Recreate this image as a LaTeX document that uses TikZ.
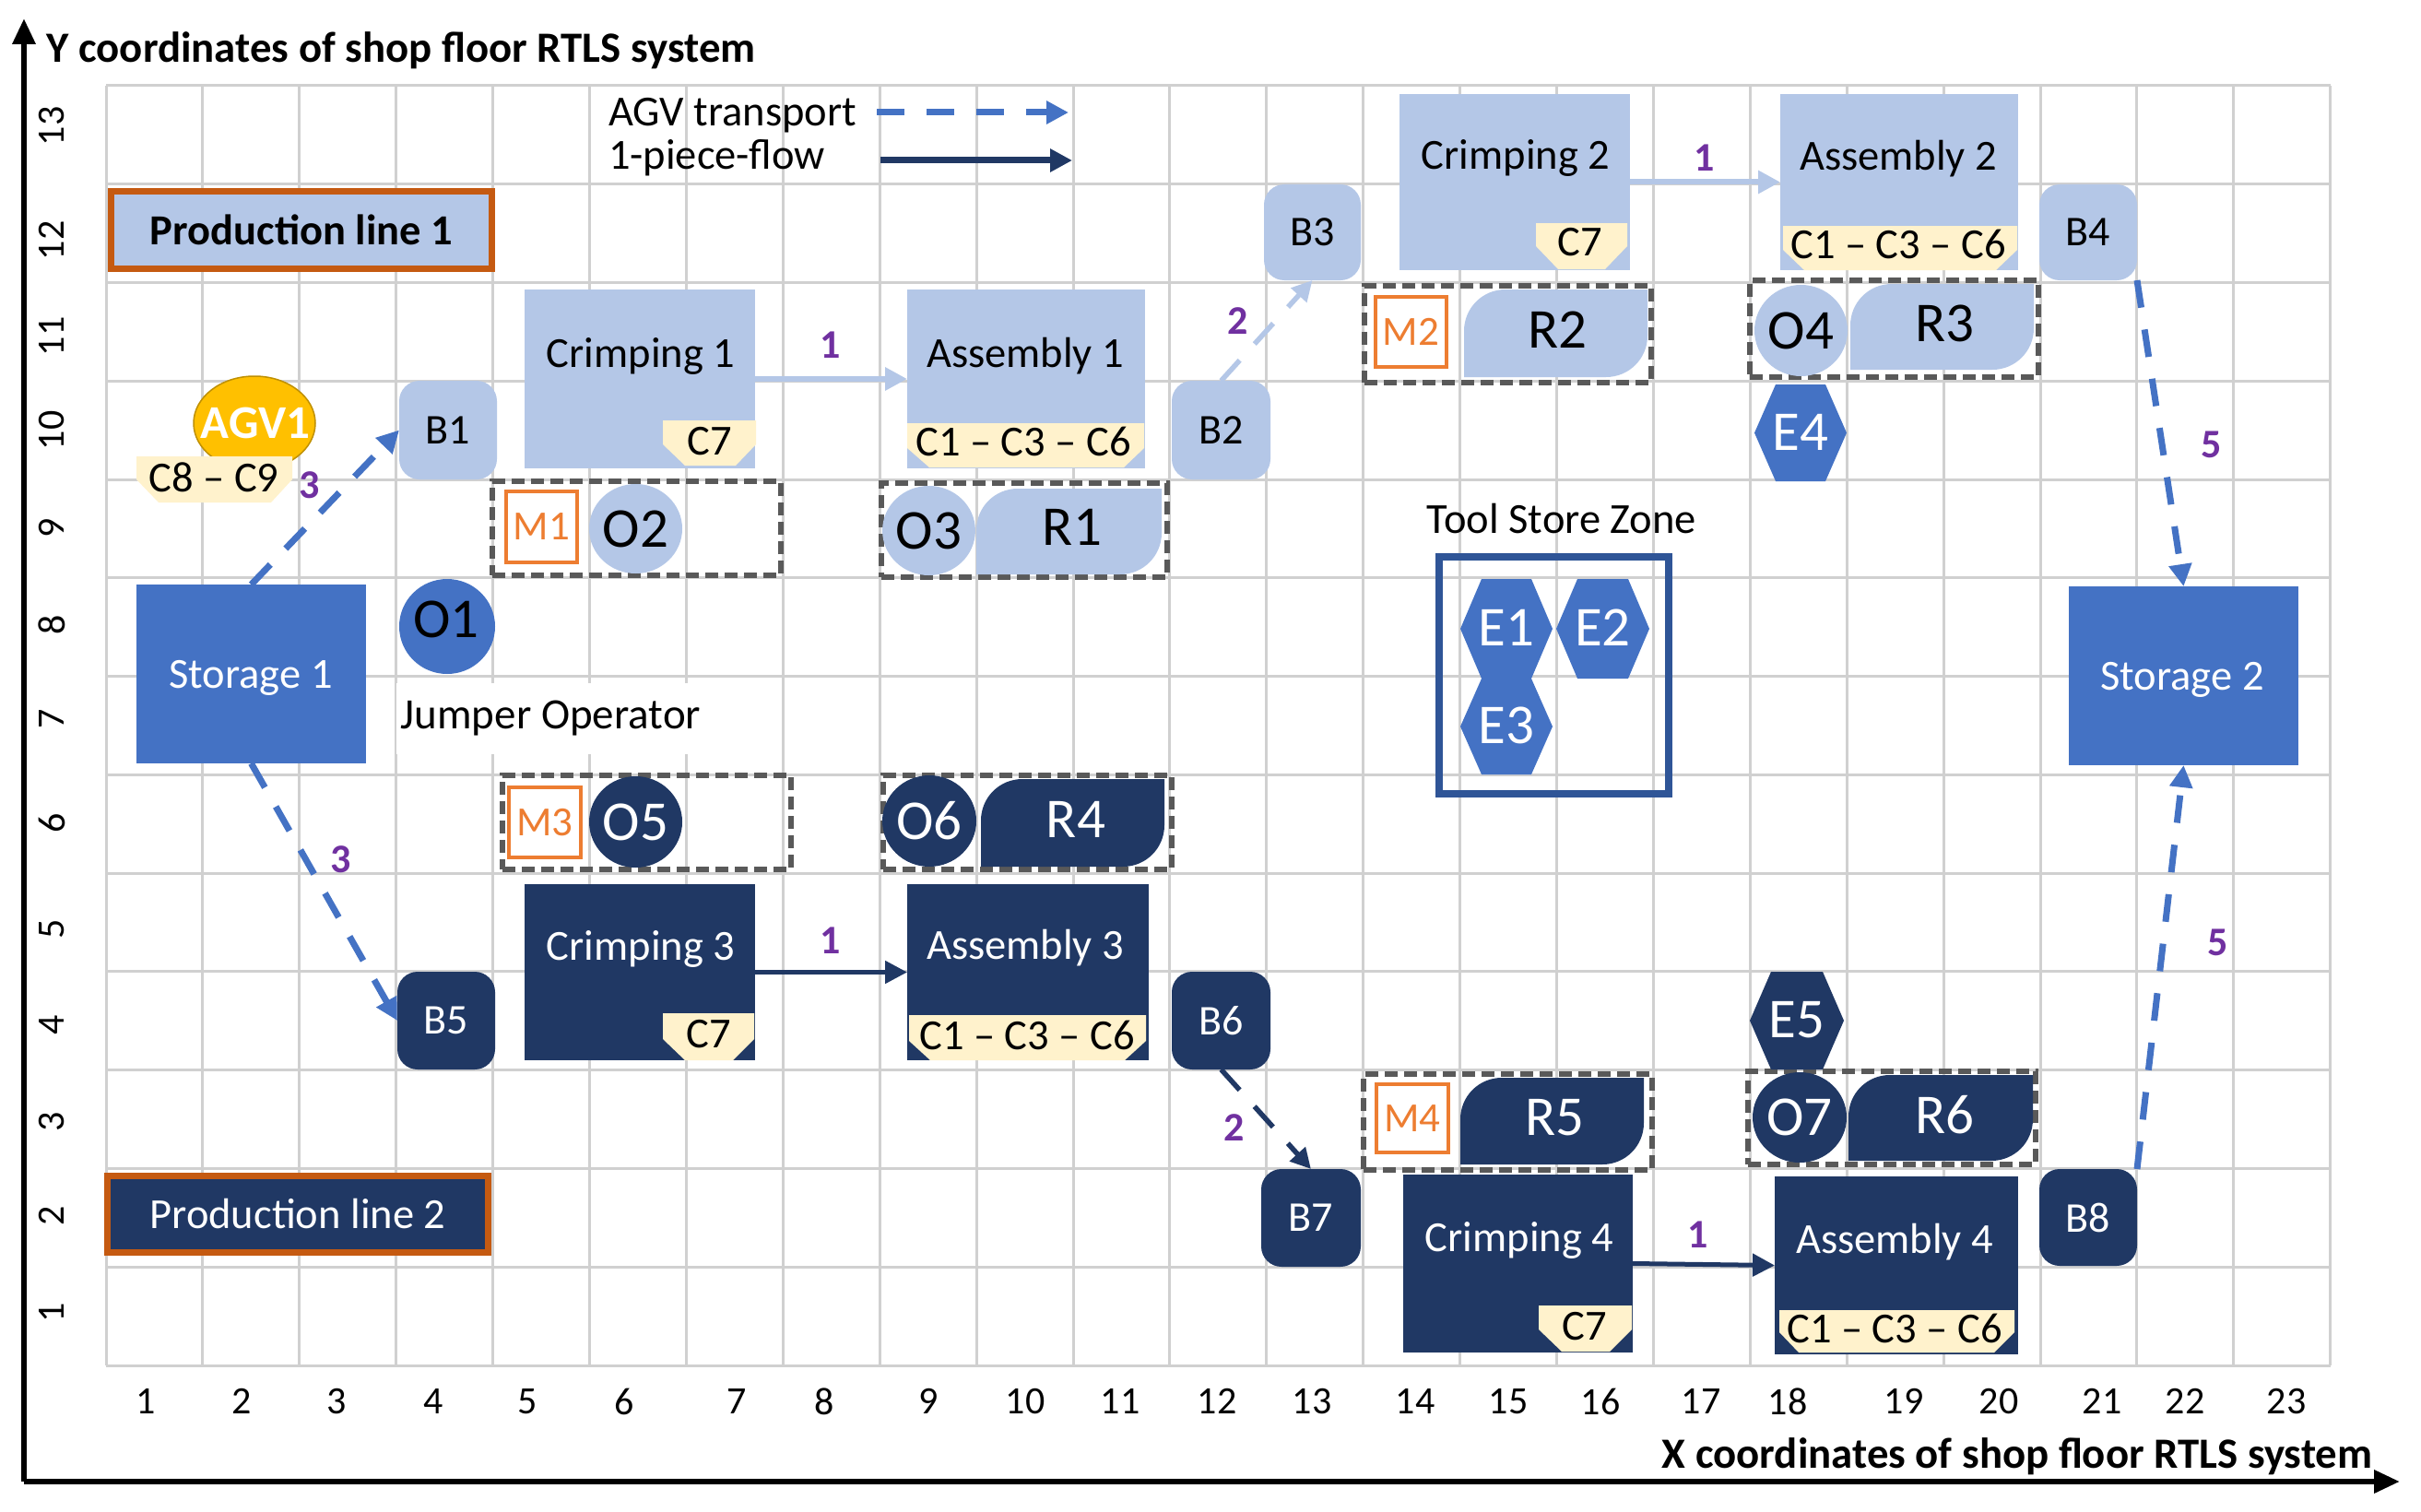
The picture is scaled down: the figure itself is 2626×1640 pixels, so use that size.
\documentclass[tikz,border=0pt]{standalone}
\usepackage{fontspec}
\setmainfont{Carlito}
\usetikzlibrary{arrows.meta,shapes.geometric}
\definecolor{lightb}{HTML}{B4C7E7}
\definecolor{midb}{HTML}{4472C4}
\definecolor{darkb}{HTML}{203864}
\definecolor{tagy}{HTML}{FFF2CC}
\definecolor{rust}{HTML}{C55A11}
\definecolor{orng}{HTML}{ED7D31}
\definecolor{purp}{HTML}{7030A0}
\definecolor{toolb}{HTML}{2F5597}
\definecolor{gridc}{HTML}{D0D0D0}
\definecolor{dashc}{HTML}{595959}
\definecolor{agvfill}{HTML}{FFC000}
\definecolor{agvline}{HTML}{BF9000}
\newcommand{\fs}[1]{\fontsize{#1pt}{#1pt}\selectfont}
\tikzset{
  base/.style={inner sep=0pt,outer sep=0pt,align=center},
  lbl/.style={base,font=\fs{46.5}},
  big/.style={base,font=\fs{61}},
  ax/.style={base,font=\fs{42}},
  num/.style={base,font=\bfseries\fs{44},text=purp},
  agv/.style={line width=7pt,dash pattern=on 30pt off 24pt,-{Triangle[length=24pt,width=24pt]}},
  agvthin/.style={line width=5.5pt,dash pattern=on 30pt off 24pt,-{Triangle[length=22pt,width=22pt]}},
  flow/.style={-{Triangle[length=24pt,width=24pt]}},
  group/.style={draw=dashc,line width=5.5pt,dash pattern=on 14pt off 7pt},
  axis/.style={line width=6.5pt,black,-{Triangle[length=28pt,width=24pt]}},
  buf/.style={base,rounded corners=22pt,font=\fs{46}},
  mach/.style={base,draw=orng,line width=4pt,text=orng,font=\fs{45}},
  oper/.style={base,ellipse,font=\fs{61}},
}
% name, style, x1, y1, x2, y2, text
\newcommand{\bx}[7]{%
  \pgfmathsetmacro\cxx{(#3+#5)/2}\pgfmathsetmacro\cyy{(#4+#6)/2}%
  \pgfmathsetmacro\wdd{#5-#3}\pgfmathsetmacro\htt{#6-#4}%
  \node[base,minimum width=\wdd pt,minimum height=\htt pt,#2] (#1) at (\cxx,\cyy) {#7};}
% x1,y1,x2,y2,bottom x1,bottom x2,corner y
\newcommand{\tagsh}[7]{\fill[tagy] (#1,#2)--(#3,#2)--(#3,#7)--(#6,#4)--(#5,#4)--(#1,#7)--cycle;}
% colour,x1,y1,x2,y2
\newcommand{\rsh}[5]{\fill[#1] (#2,#5)--(#2,#3+45) .. controls (#2,#3+20) and (#2+20,#3) .. (#2+45,#3)--(#4,#3)--(#4,#5-45) .. controls (#4,#5-20) and (#4-20,#5) .. (#4-45,#5)--cycle;}
% name,colour,x1,y1,x2,y2,text
\newcommand{\hexa}[7]{%
  \fill[#2] (#3+23,#4)--(#5-23,#4)--(#5,{(#4+#6)/2})--(#5-23,#6)--(#3+23,#6)--(#3,{(#4+#6)/2})--cycle;
  \node[big,text=white] (#1) at ({(#3+#5)/2},{(#4+#6)/2-1}) {#7};}
\begin{document}
\begin{tikzpicture}[x=1pt,y=-1pt]
\useasboundingbox (0,0) rectangle (2626,1640);
\fill[white] (0,0) rectangle (2626,1640);
% grid
\foreach \i in {0,...,23}{\draw[gridc,line width=3pt] ({115+104.9*\i},93)--({115+104.9*\i},1481);}
\foreach \i in {0,...,13}{\draw[gridc,line width=3pt] (115,{93+106.77*\i})--(2528,{93+106.77*\i});}
% axes
\coordinate (org) at (26,1607);
\coordinate (ytop) at (26,20);
\coordinate (xend) at (2603,1607);
\draw[axis] (org)--(ytop);
\draw[axis] (org)--(xend);
\node[base,font=\bfseries\fs{46.8},anchor=center] (ytitle) at (435,55) {Y coordinates of shop floor RTLS system};
\node[base,font=\bfseries\fs{46.8},anchor=center] (xtitle) at (2188,1580) {X coordinates of shop floor RTLS system};
\foreach \v/\p in {13/137,12/261,11/365,10/467,9/573,8/678,7/780,6/893,5/1008,4/1112,3/1217,2/1319,1/1424}{\node[ax,rotate=90] (yl\v) at (56,\p) {\v};}
\foreach \v/\p in {1/158,2/262,3/365,4/470,5/572,6/677,7/799,8/894,9/1007,10/1112,11/1215,12/1320,13/1423,14/1535,15/1636,16/1736,17/1845,18/1939,19/2065,20/2168,21/2280,22/2370,23/2480}{\node[ax] (xl\v) at (\p,1520) {\v};}
% legend
\node[lbl,anchor=west] (legA) at (660,125) {AGV transport};
\node[lbl,anchor=west] (legB) at (660,171) {1-piece-flow};
\coordinate (la1) at (951,122);\coordinate (la2) at (1159,122);
\coordinate (lb1) at (955,174);\coordinate (lb2) at (1163,174);
\draw[agv,midb] (la1)--(la2);
\draw[flow,darkb,line width=7pt] (lb1)--(lb2);
% production line labels
\bx{pl1}{draw=rust,line width=7.5pt,fill=lightb,font=\bfseries\fs{46.5}}{120.5}{207.5}{533.5}{291.5}{Production line 1}
\bx{pl2}{draw=rust,line width=7.5pt,fill=darkb,text=white,font=\fs{46.5}}{116.5}{1275.5}{529.5}{1358.5}{Production line 2}
% Jumper
\bx{ol1}{fill=midb,ellipse}{433}{628}{537}{731}{}
\node[big] (o1) at (484,672) {O1};
\bx{jo}{fill=white,font=\fs{47}}{430}{741}{765}{818}{Jumper Operator}
% AGV
\bx{agv1}{ellipse,fill=agvfill,draw=agvline,line width=1.5pt}{210}{408}{342}{510}{}
\node[base,text=white,font=\bfseries\fs{51}] (agvt) at (277,459) {AGV1};
\tagsh{148}{495}{317}{545}{172}{294}{520}
\node[lbl] (c89) at (232,518) {C8 – C9};
% storage
\bx{st1}{fill=midb}{148}{634}{397}{828}{}
\node[lbl,text=white] (st1t) at (272,735) {Storage 1};
\bx{st2}{fill=midb}{2244}{636}{2493}{830}{}
\node[lbl,text=white] (st2t) at (2367,737) {Storage 2};
% buffers
\bx{b1}{buf,fill=lightb}{433}{413}{539}{520}{B1}
\bx{b2}{buf,fill=lightb}{1271}{413}{1378}{520}{B2}
\bx{b3}{buf,fill=lightb}{1371}{200}{1476}{304}{B3}
\bx{b4}{buf,fill=lightb}{2212}{200}{2318}{304}{B4}
\bx{b5}{buf,fill=darkb,text=white}{431}{1054}{537}{1160}{B5}
\bx{b6}{buf,fill=darkb,text=white}{1271}{1054}{1378}{1160}{B6}
\bx{b7}{buf,fill=darkb,text=white}{1368}{1268}{1476}{1374}{B7}
\bx{b8}{buf,fill=darkb,text=white}{2212}{1268}{2318}{1373}{B8}
% crimping
\bx{cr1}{fill=lightb}{569}{314}{819}{508}{}
\node[lbl] (cr1t) at (695,386) {Crimping 1};
\tagsh{719}{456}{820}{505}{743}{798}{482}
\node[lbl] (cr1c) at (770,479) {C7};
\bx{cr2}{fill=lightb}{1518}{102}{1768}{293}{}
\node[lbl] (cr2t) at (1644,172) {Crimping 2};
\tagsh{1666}{242}{1765}{292}{1690}{1741}{267}
\node[lbl] (cr2c) at (1714,263) {C7};
\bx{cr3}{fill=darkb}{569}{959}{819}{1150}{}
\node[lbl,text=white] (cr3t) at (695,1029) {Crimping 3};
\tagsh{719}{1099}{818}{1150}{743}{795}{1127}
\node[lbl] (cr3c) at (769,1122) {C7};
\bx{cr4}{fill=darkb}{1522}{1274}{1771}{1467}{}
\node[lbl,text=white] (cr4t) at (1648,1345) {Crimping 4};
\tagsh{1669}{1416}{1770}{1466}{1694}{1746}{1442}
\node[lbl] (cr4c) at (1719,1439) {C7};
% assembly
\bx{as1}{fill=lightb}{984}{314}{1242}{508}{}
\node[lbl] (as1t) at (1112,386) {Assembly 1};
\tagsh{984}{459}{1241}{507}{1008}{1219}{486}
\node[lbl] (as1c) at (1110,479) {C1 – C3 – C6};
\bx{as2}{fill=lightb}{1931}{102}{2189}{293}{}
\node[lbl] (as2t) at (2059,172) {Assembly 2};
\tagsh{1934}{245}{2188}{293}{1957}{2165}{271}
\node[lbl] (as2c) at (2059,265) {C1 – C3 – C6};
\bx{as3}{fill=darkb}{984}{959}{1246}{1150}{}
\node[lbl,text=white] (as3t) at (1112,1028) {Assembly 3};
\tagsh{986}{1101}{1243}{1150}{1009}{1220}{1129}
\node[lbl] (as3c) at (1114,1123) {C1 – C3 – C6};
\bx{as4}{fill=darkb}{1925}{1276}{2189}{1469}{}
\node[lbl,text=white] (as4t) at (2055,1347) {Assembly 4};
\tagsh{1930}{1421}{2185}{1467}{1951}{2163}{1445}
\node[lbl] (as4c) at (2055,1441) {C1 – C3 – C6};
% groups with operators and robots
\bx{g1}{group}{534}{522}{847}{624}{}
\bx{m1}{mach}{549}{533}{626}{610}{M1}
\bx{o2}{oper,fill=lightb}{639}{525}{740}{622}{O2}
\bx{g2}{group}{956}{524}{1266}{626}{}
\bx{o3}{oper,fill=lightb}{959}{527}{1056}{624}{O3}
\rsh{lightb}{1059}{530}{1260}{623}
\node[big] (r1) at (1163,572) {R1};
\bx{g3}{group}{1480}{310}{1791}{415}{}
\bx{m2}{mach}{1492}{322}{1569}{398}{M2}
\rsh{lightb}{1588}{314}{1787}{409}
\node[big] (r2) at (1689,358) {R2};
\bx{g4}{group}{1898}{304}{2211}{409}{}
\bx{o4}{oper,fill=lightb}{1903}{309}{2004}{408}{O4}
\rsh{lightb}{2007}{308}{2206}{401}
\node[big] (r3) at (2109,351) {R3};
\bx{g5}{group}{545}{841}{858}{943}{}
\bx{m3}{mach}{552}{854}{630}{930}{M3}
\bx{o5}{oper,fill=darkb,text=white}{639}{842}{740}{941}{O5}
\bx{g6}{group}{958}{841}{1271}{943}{}
\bx{o6}{oper,fill=darkb,text=white}{957}{841}{1059}{940}{O6}
\rsh{darkb}{1064}{845}{1263}{940}
\node[big,text=white] (r4) at (1167,889) {R4};
\bx{g7}{group}{1479}{1165}{1792}{1269}{}
\bx{m4}{mach}{1493}{1176}{1571}{1250}{M4}
\rsh{darkb}{1584}{1169}{1783}{1263}
\node[big,text=white] (r5) at (1686,1212) {R5};
\bx{g8}{group}{1896}{1162}{2208}{1263}{}
\bx{o7}{oper,fill=darkb,text=white}{1901}{1163}{2003}{1261}{O7}
\rsh{darkb}{2005}{1166}{2205}{1259}
\node[big,text=white] (r6) at (2109,1209) {R6};
% tool store
\node[lbl] (tsz) at (1694,563) {Tool Store Zone};
\bx{tool}{draw=toolb,line width=7.5pt}{1561}{604}{1810}{861}{}
\hexa{e1}{midb}{1584}{628}{1684}{736}{E1}
\hexa{e2}{midb}{1688}{628}{1789}{736}{E2}
\hexa{e3}{midb}{1584}{736}{1684}{840}{E3}
\hexa{e4}{midb}{1903}{417}{2003}{522}{E4}
\hexa{e5}{darkb}{1898}{1054}{2000}{1160}{E5}
% connectors
\draw[agv,midb] (st1.north)--(b1.west);
\draw[agv,midb] (st1.south)--(b5.west);
\draw[flow,lightb,line width=6pt] (cr1.east)--(as1.west);
\draw[flow,lightb,line width=6pt] (cr2.east)--(as2.west);
\draw[flow,darkb,line width=5pt] (cr3.east)--(as3.west);
\draw[flow,darkb,line width=5pt] (cr4.east)--(as4.west);
\draw[agvthin,lightb] (b2.north)--(b3.south);
\draw[agvthin,darkb] (b6.south)--(b7.north);
\draw[agv,midb] (b4.south east)--(st2.north);
\draw[agv,midb] (b8.north east)--(st2.south);
% flow numbers
\node[num] (n1) at (336,526) {3};
\node[num] (n2) at (370,932) {3};
\node[num] (n3) at (901,374) {1};
\node[num] (n4) at (901,1020) {1};
\node[num] (n5) at (1343,348) {2};
\node[num] (n6) at (1339,1223) {2};
\node[num] (n7) at (1849,171) {1};
\node[num] (n8) at (1842,1339) {1};
\node[num] (n9) at (2399,482) {5};
\node[num] (n10) at (2406,1022) {5};
\end{tikzpicture}
\end{document}
